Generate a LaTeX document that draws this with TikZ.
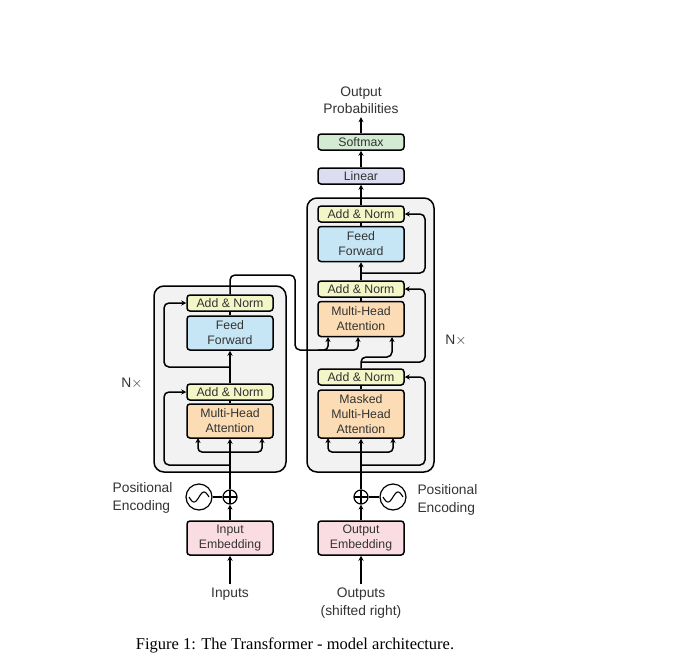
\documentclass[tikz,border=0pt]{standalone}
\usepackage{fontspec}
\setmainfont{Liberation Sans}
\newfontfamily\capfont{Liberation Serif}
\usetikzlibrary{arrows.meta}
\definecolor{cAN}{HTML}{F3F6C7}
\definecolor{cFF}{HTML}{C6E6F5}
\definecolor{cMH}{HTML}{FCDCB5}
\definecolor{cEM}{HTML}{FADDE3}
\definecolor{cSM}{HTML}{D3EBD3}
\definecolor{cLN}{HTML}{DCDDF0}
\definecolor{cBG}{HTML}{F2F2F2}
\definecolor{cTX}{HTML}{333333}
\tikzset{
  box/.style={draw=black, line width=1.5pt, rounded corners=3pt, minimum width=86pt, inner sep=0pt, align=center, text=cTX, font=\fontsize{12.3}{15}\selectfont},
  lbl/.style={align=center, text=cTX, font=\fontsize{13.8}{17.5}\selectfont},
  ln/.style={line width=1.5pt},
  arr/.style={line width=1.5pt, -{Stealth[length=5pt,width=5pt]}},
  bigbox/.style={draw=black, line width=1.5pt, fill=cBG, rounded corners=10pt},
  circ/.style={draw=black, line width=1.2pt, circle, inner sep=0pt}
}
\begin{document}
\begin{tikzpicture}[x=1pt,y=-1pt]
\useasboundingbox (0,0) rectangle (681,670);
% background boxes
\draw[bigbox] (154,286) rectangle (286,472);
\draw[bigbox] (307,198) rectangle (434,472);
% encoder nodes
\node[box, fill=cAN, minimum height=16pt] (ean2) at (230,303) {Add \& Norm};
\node[box, fill=cFF, minimum height=34pt] (eff) at (230,333) {Feed\\Forward};
\node[box, fill=cAN, minimum height=16pt] (ean1) at (230,392) {Add \& Norm};
\node[box, fill=cMH, minimum height=34pt] (emha) at (230,421) {Multi-Head\\Attention};
\node[box, fill=cEM, minimum height=34pt] (eemb) at (230,538) {Input\\Embedding};
\node[circ, minimum size=14pt] (eplus) at (230,497) {};
\node[circ, minimum size=26pt] (esin) at (199,497) {};
\node[lbl] (inputs) at (230,594) {Inputs};
\node[lbl, align=left, anchor=east] (epos) at (176,498) {Positional\\Encoding};
\node[lbl] (enx) at (132,383) {N$\times$};
% decoder nodes
\node[box, fill=cAN, minimum height=16pt] (dan3) at (361,214) {Add \& Norm};
\node[box, fill=cFF, minimum height=35pt] (dff) at (361,244) {Feed\\Forward};
\node[box, fill=cAN, minimum height=16pt] (dan2) at (361,289) {Add \& Norm};
\node[box, fill=cMH, minimum height=35pt] (dmha) at (361,319) {Multi-Head\\Attention};
\node[box, fill=cAN, minimum height=16pt] (dan1) at (361,377) {Add \& Norm};
\node[box, fill=cMH, minimum height=48pt] (dmmha) at (361,414) {Masked\\Multi-Head\\Attention};
\node[box, fill=cEM, minimum height=34pt] (demb) at (361,538) {Output\\Embedding};
\node[box, fill=cLN, minimum height=16pt] (lin) at (361,176) {Linear};
\node[box, fill=cSM, minimum height=16pt] (soft) at (361,142) {Softmax};
\node[circ, minimum size=14pt] (dplus) at (361,497) {};
\node[circ, minimum size=26pt] (dsin) at (393,497) {};
\node[lbl] (outputs) at (361,603) {Outputs\\(shifted right)};
\node[lbl] (outprob) at (361,100) {Output\\Probabilities};
\node[lbl, align=left, anchor=west] (dpos) at (414,500) {Positional\\Encoding};
\node[lbl] (dnx) at (456,340) {N$\times$};
\node[font=\capfont\fontsize{16.5}{18}\selectfont] (cap) at (295,645) {Figure 1: The Transformer - model architecture.};
% plus and sine glyphs
\foreach \p in {eplus,dplus}{
  \draw[line width=1.1pt] ([xshift=-7pt]\p.center) -- ([xshift=7pt]\p.center);
  \draw[line width=1.1pt] ([yshift=-7pt]\p.center) -- ([yshift=7pt]\p.center);
}
\foreach \s in {esin,dsin}{
  \draw[line width=1.1pt, shift={(\s.center)}] plot[domain=-10:10, samples=40, smooth] (\x, {-5*sin(18*\x)});
}
\draw[ln] (esin) -- (eplus);
\draw[ln] (dsin) -- (dplus);
% encoder connectors
\draw[arr] (inputs) -- (eemb);
\draw[arr] (eemb) -- (eplus);
\draw[arr] (eplus) -- (emha);
\draw[arr, rounded corners=4pt] (230,452) -- (198,452) -- (198,438);
\draw[arr, rounded corners=4pt] (230,452) -- (262,452) -- (262,438);
\draw[arr, rounded corners=5pt] (230,465) -- (164,465) -- (164,392) -- (ean1.west);
\draw[ln] (emha) -- (ean1);
\draw[arr] (ean1) -- (eff);
\draw[arr, rounded corners=5pt] (230,367) -- (164,367) -- (164,303) -- (ean2.west);
\draw[ln] (eff) -- (ean2);
\draw[ln, rounded corners=5pt] (ean2.north) -- (230,275) -- (295,275) -- (295,350) -- (345,350);
\draw[arr, rounded corners=4pt] (318,350) -- (328,350) -- (328,337);
\draw[arr, rounded corners=4pt] (345,350) -- (358,350) -- (358,337);
% decoder connectors
\draw[arr] (outputs) -- (demb);
\draw[arr] (demb) -- (dplus);
\draw[arr] (dplus) -- (dmmha);
\draw[arr, rounded corners=4pt] (361,452) -- (328,452) -- (328,438);
\draw[arr, rounded corners=4pt] (361,452) -- (393,452) -- (393,438);
\draw[arr, rounded corners=5pt] (361,465) -- (425,465) -- (425,377) -- (dan1.east);
\draw[ln] (dmmha) -- (dan1);
\draw[arr, rounded corners=5pt] (dan1.north) -- (361,357) -- (392,357) -- (392,337);
\draw[arr, rounded corners=5pt] (361,362) -- (425,362) -- (425,289) -- (dan2.east);
\draw[ln] (dmha) -- (dan2);
\draw[arr] (dan2) -- (dff);
\draw[arr, rounded corners=5pt] (361,273) -- (425,273) -- (425,214) -- (dan3.east);
\draw[ln] (dff) -- (dan3);
\draw[arr] (dan3) -- (lin);
\draw[arr] (lin) -- (soft);
\draw[arr] (soft) -- (outprob);
\end{tikzpicture}
\end{document}
